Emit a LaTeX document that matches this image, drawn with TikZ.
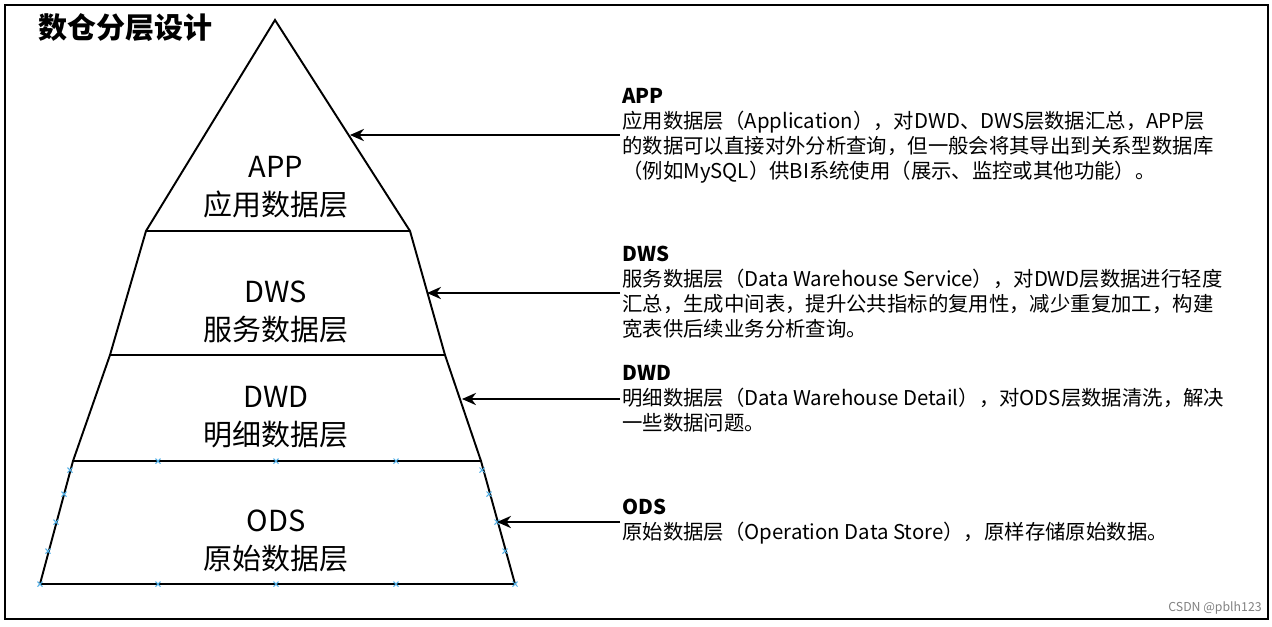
\documentclass[tikz,border=0pt]{standalone}
\usepackage{fontspec}
\setmainfont{Noto Sans CJK SC}
\usetikzlibrary{arrows.meta}
\begin{document}
\begin{tikzpicture}[x=0.02cm,y=-0.02cm,
  ln/.style={line width=1.1pt,black},
  lay/.style={font=\fontsize{16.5}{21.5}\selectfont,align=center},
  desc/.style={font=\fontsize{11.6}{14.2}\selectfont,align=left,anchor=north west,inner sep=0},
  arr/.style={line width=0.9pt,-{Stealth[length=8pt,width=7pt]}}]
\useasboundingbox (0,0) rectangle (1272,626);
\draw[ln] (5,5) rectangle (1268,619);
\node[anchor=north west,inner sep=0,font=\fontsize{16.5}{18}\selectfont\bfseries] (title) at (38,13) {数仓分层设计};
% pyramid
\coordinate (apex) at (275,20);
\coordinate (bl) at (40,584); \coordinate (br) at (515,584);
\coordinate (l1) at (146,231); \coordinate (r1) at (410,231);
\coordinate (l2) at (110,355); \coordinate (r2) at (445,355);
\coordinate (l3) at (73,461); \coordinate (r3) at (481,461);
\draw[ln,line join=miter] (apex) -- (l1) -- (l2) -- (l3) -- (bl) -- (br) -- (r3) -- (r2) -- (r1) -- cycle;
\draw[ln] (l1) -- (r1); \draw[ln] (l2) -- (r2); \draw[ln] (l3) -- (r3);
\node[lay] (app) at (276,187) {APP\\应用数据层};
\node[lay] (dws) at (276,312) {DWS\\服务数据层};
\node[lay] (dwd) at (276,417) {DWD\\明细数据层};
\node[lay] (ods) at (276,541) {ODS\\原始数据层};
% markers
\foreach \p in {(158,461),(276,461),(396,461),(70,470),(64,494),(56,522),(48,551),(40,584),(482,470),(489,494),(497,522),(505,551),(515,584),(158,584),(276,584),(396,584)}
  {\draw[cyan!80!blue!70,line width=0.6pt] \p ++(-2.5,-2.5) -- ++(5,5) \p ++(-2.5,2.5) -- ++(5,-5);}
% descriptions
\node[desc] (dapp) at (622,88) {\textbf{APP}\\应用数据层（Application），对DWD、DWS层数据汇总，APP层\\的数据可以直接对外分析查询，但一般会将其导出到关系型数据库\\（例如MySQL）供BI系统使用（展示、监控或其他功能）。};
\node[desc] (ddws) at (622,246) {\textbf{DWS}\\服务数据层（Data Warehouse Service），对DWD层数据进行轻度\\汇总，生成中间表，提升公共指标的复用性，减少重复加工，构建\\宽表供后续业务分析查询。};
\node[desc] (ddwd) at (622,365) {\textbf{DWD}\\明细数据层（Data Warehouse Detail），对ODS层数据清洗，解决\\一些数据问题。};
\node[desc] (dods) at (622,499) {\textbf{ODS}\\原始数据层（Operation Data Store），原样存储原始数据。};
\coordinate (a1) at (620,135); \coordinate (t1) at (350,135);
\coordinate (a2) at (620,293); \coordinate (t2) at (427,293);
\coordinate (a3) at (620,399); \coordinate (t3) at (462,399);
\coordinate (a4) at (620,522); \coordinate (t4) at (497,522);
\draw[arr] (a1) -- (t1); \draw[arr] (a2) -- (t2); \draw[arr] (a3) -- (t3); \draw[arr] (a4) -- (t4);
\node[anchor=south east,inner sep=0,font=\fontsize{7}{8}\selectfont,text=gray] (wm) at (1262,615) {CSDN @pblh123};
\end{tikzpicture}
\end{document}
